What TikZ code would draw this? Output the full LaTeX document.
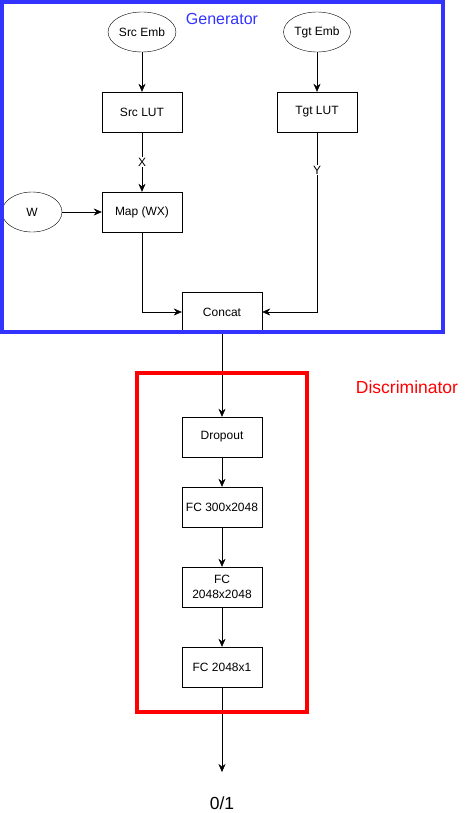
\documentclass[tikz,border=0pt]{standalone}
\usepackage{fontspec}
\setmainfont{Liberation Sans}
\usetikzlibrary{arrows.meta,shapes.geometric}
\definecolor{genblue}{HTML}{3333FF}
\definecolor{discred}{HTML}{FF0000}
\tikzset{>={Stealth[length=8pt,width=7pt]},line width=1pt,
  every node/.style={font=\fontsize{12}{15}\selectfont},
  layer/.style={draw,minimum width=80pt,minimum height=40pt,align=center,inner sep=2pt},
  embed/.style={draw,ellipse,minimum width=60pt,minimum height=40pt,inner sep=1pt},
  flow/.style={->},
  frame/.style={line width=4pt},
  title/.style={font=\fontsize{16}{19}\selectfont},
  bigtitle/.style={font=\fontsize{17.5}{21}\selectfont},
  edgelabel/.style={fill=white,inner sep=1pt}}

\begin{document}
\begin{tikzpicture}[x=1pt,y=-1pt]
\useasboundingbox (0,0) rectangle (473,813);
% generator part
\node[embed] (srcemb) at (142,32) {Src Emb};
\node[embed] (tgtemb) at (317,32) {Tgt Emb};
\node[layer] (srclut) at (142,112) {Src LUT};
\node[layer] (tgtlut) at (317,112) {Tgt LUT};
\node[layer] (map) at (142,212) {Map (WX)};
\node[embed] (w) at (32,212) {W};
\node[layer] (concat) at (222,312) {Concat};
% discriminator part
\node[layer] (dropout) at (222,437) {Dropout};
\node[layer] (fcone) at (222,507) {FC 300x2048};
\node[layer] (fctwo) at (222,587) {FC\\2048x2048};
\node[layer] (fcthree) at (222,667) {FC 2048x1};
\coordinate (outtip) at (222,772);
\node[bigtitle] (out) at (222,803) {0/1};
\node[title,text=genblue] (gentitle) at (222,19) {Generator};
\node[bigtitle,text=discred] (disctitle) at (407,387) {Discriminator};
\draw[flow] (srcemb) -- (srclut);
\draw[flow] (tgtemb) -- (tgtlut);
\draw[flow] (srclut) -- node[edgelabel] {X} (map);
\draw[flow] (w) -- (map);
\draw[flow] (map) |- (concat);
\draw[flow] (tgtlut) |- node[edgelabel,pos=.105] {Y} (concat);
\draw[flow] (concat) -- (dropout);
\draw[flow] (dropout) -- (fcone);
\draw[flow] (fcone) -- (fctwo);
\draw[flow] (fctwo) -- (fcthree);
\draw[flow] (fcthree) -- (outtip);
% frames drawn last
\draw[frame,genblue] (2,2) rectangle (443,332);
\draw[frame,discred] (137,373) rectangle (307,712);
\end{tikzpicture}
\end{document}
